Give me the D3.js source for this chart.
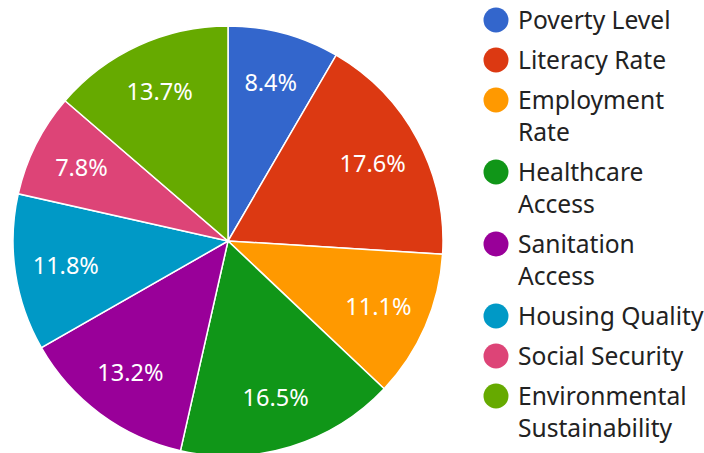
<!DOCTYPE html>
<html><head><meta charset="utf-8">
<script src="https://cdn.jsdelivr.net/npm/d3@7"></script>
<style>body{margin:0;background:#fff}svg{display:block;font-family:"Noto Sans","Open Sans",sans-serif}</style>
</head><body><svg id="c" width="704" height="453"></svg>
<script>
const categories = ["Poverty Level","Literacy Rate","Employment Rate","Healthcare Access","Sanitation Access","Housing Quality","Social Security","Environmental Sustainability"];
const values = [8.4,17.6,11.1,16.5,13.2,11.8,7.8,13.7];
const legendLines = [["Poverty Level"],["Literacy Rate"],["Employment","Rate"],["Healthcare","Access"],["Sanitation","Access"],["Housing Quality"],["Social Security"],["Environmental","Sustainability"]];
const colors = ["#3366cc","#dc3912","#ff9900","#109618","#990099","#0099c6","#dd4477","#66aa00"];

const svg = d3.select("#c");
const cx = 228, cy = 241, r = 215;
const data = categories.map((c,i)=>({name:c,value:values[i],color:colors[i],lines:legendLines[i]}));
const pie = d3.pie().value(d=>d.value).sort(null);
const arc = d3.arc().innerRadius(0).outerRadius(r);
const labelArc = d3.arc().innerRadius(164).outerRadius(164);
const g = svg.append("g").attr("transform",`translate(${cx},${cy})`);
const arcs = pie(data);
g.selectAll("path").data(arcs).join("path")
  .attr("d",arc).attr("fill",d=>d.data.color)
  .attr("stroke","#fff").attr("stroke-width",1.5);
g.selectAll("text").data(arcs).join("text")
  .attr("transform",d=>`translate(${labelArc.centroid(d)})`)
  .attr("text-anchor","middle").attr("dy","0.36em")
  .attr("fill","#fff").attr("font-size",23.5)
  .text(d=>d.data.value.toFixed(1)+"%");

const lg = svg.append("g");
let y = 20;
data.forEach(d=>{
  const it = lg.append("g").attr("transform",`translate(0,${y})`);
  it.append("circle").attr("cx",496).attr("cy",0).attr("r",12.5).attr("fill",d.color);
  d.lines.forEach((l,j)=>{
    it.append("text").attr("x",518).attr("y",j*32+8.5).attr("font-size",24.6).attr("fill","#222").text(l);
  });
  y += (d.lines.length-1)*32 + 40;
});
</script></body></html>
